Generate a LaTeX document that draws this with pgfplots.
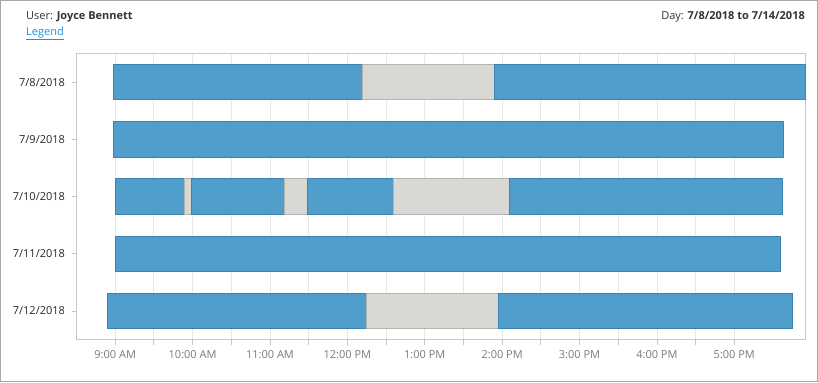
\documentclass[border=0pt]{standalone}
\usepackage{fontspec}
\setmainfont{Open Sans}
\usepackage{pgfplots}
\pgfplotsset{compat=1.18}
\definecolor{barblue}{HTML}{4F9ECB}
\definecolor{barblueedge}{HTML}{3A84AE}
\definecolor{bargray}{HTML}{D9D8D4}
\definecolor{bargrayedge}{HTML}{B4B3AF}
\definecolor{gridc}{HTML}{E8E8E8}
\definecolor{axisc}{HTML}{C8C8C8}
\definecolor{tickc}{HTML}{7A7A7A}
\definecolor{linkc}{HTML}{1E8FD8}
\definecolor{framec}{HTML}{A8A8A8}
\newcommand{\seg}[5]{\addplot[fill=#5, draw=#5edge, line width=0.8bp, line join=miter] coordinates {(#1,#3) (#2,#3) (#2,#4) (#1,#4)} -- cycle;}
\begin{document}
\begin{tikzpicture}[x=1bp,y=1bp]
\path[use as bounding box] (0,0) rectangle (818,382);
\draw[framec, line width=1bp] (0.5,0.5) rectangle (817.5,381.5);
\node[anchor=west, inner sep=0pt, font=\fontsize{11bp}{13bp}\selectfont, text=black!80] at (26,365.5) {User: \textbf{Joyce Bennett}};
\node[anchor=west, inner sep=0pt, font=\fontsize{11bp}{13bp}\selectfont, text=linkc] at (26,348.5) {\underline{Legend}};
\node[anchor=east, inner sep=0pt, font=\fontsize{11bp}{13bp}\selectfont, text=black!80] at (805,365.5) {Day: \textbf{7/8/2018 to 7/14/2018}};
\begin{axis}[
  at={(76.5bp,42.5bp)}, anchor=south west,
  width=729bp, height=286bp, scale only axis,
  xmin=8.5, xmax=17.92, ymin=-0.5, ymax=4.5, y dir=reverse,
  axis line style={axisc, line width=0.8bp},
  xtick={9,10,11,12,13,14,15,16,17},
  xticklabels={9:00 AM,10:00 AM,11:00 AM,12:00 PM,1:00 PM,2:00 PM,3:00 PM,4:00 PM,5:00 PM},
  minor x tick num=1,
  ytick={0,1,2,3,4},
  yticklabels={7/8/2018,7/9/2018,7/10/2018,7/11/2018,7/12/2018},
  xmajorgrids, xminorgrids,
  major grid style={gridc, line width=0.8bp},
  minor grid style={gridc, line width=0.8bp},
  tick align=outside, tick pos=left,
  major tick length=5bp, minor tick length=5bp,
  every tick/.style={axisc, line width=0.8bp},
  every minor tick/.style={axisc, line width=0.8bp},
  x tick label style={font=\fontsize{11bp}{13bp}\selectfont, text=tickc, yshift=-2bp},
  y tick label style={font=\fontsize{11bp}{13bp}\selectfont, text=black!85, xshift=-3bp},
  /pgf/number format/assume math mode=true,
  clip=false,
]
% 7/8/2018
\seg{8.975}{12.195}{-0.31}{0.31}{barblue}
\seg{12.195}{13.897}{-0.31}{0.31}{bargray}
\seg{13.897}{17.92}{-0.31}{0.31}{barblue}
% 7/9/2018
\seg{8.975}{17.637}{0.69}{1.31}{barblue}
% 7/10/2018
\seg{9.0}{9.89}{1.69}{2.31}{barblue}
\seg{9.89}{9.98}{1.69}{2.31}{bargray}
\seg{9.98}{11.18}{1.69}{2.31}{barblue}
\seg{11.18}{11.48}{1.69}{2.31}{bargray}
\seg{11.48}{12.59}{1.69}{2.31}{barblue}
\seg{12.59}{14.10}{1.69}{2.31}{bargray}
\seg{14.10}{17.626}{1.69}{2.31}{barblue}
% 7/11/2018
\seg{9.0}{17.60}{2.69}{3.31}{barblue}
% 7/12/2018
\seg{8.897}{12.25}{3.69}{4.31}{barblue}
\seg{12.25}{13.95}{3.69}{4.31}{bargray}
\seg{13.95}{17.756}{3.69}{4.31}{barblue}
\end{axis}
\end{tikzpicture}
\end{document}
